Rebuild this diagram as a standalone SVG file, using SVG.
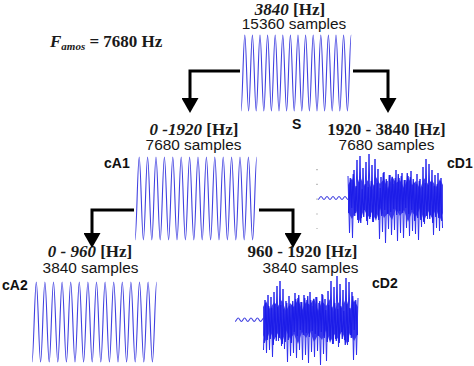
<svg xmlns="http://www.w3.org/2000/svg" xmlns:xlink="http://www.w3.org/1999/xlink" width="474" height="366" viewBox="0 0 474 366">
<style>
.hz{font-family:"Liberation Serif",serif;font-weight:bold;font-size:17px;fill:#1a1a1a;text-anchor:middle}
.it{font-style:italic}
.smp{font-family:"Liberation Sans",Arial,sans-serif;font-size:15.4px;fill:#151515;text-anchor:middle}
.lbl{font-family:"Liberation Sans",Arial,sans-serif;font-weight:bold;font-size:14px;fill:#111}
.sine{fill:none;stroke:#4040e0;stroke-width:1.1}
.noise{fill:none;stroke:#2c2cee;stroke-width:1}
.noise2{fill:none;stroke:#1c1ce8;stroke-width:1.2}
.core{fill:#2626e6;fill-opacity:0.85}
.conn{fill:none;stroke:#000;stroke-width:3}
</style>
<defs>
<marker id="ah" viewBox="0 0 15 17" refX="5" refY="8.5" markerWidth="15" markerHeight="17" markerUnits="userSpaceOnUse" orient="auto">
<path d="M0,0 L15,8.5 L0,17 z" fill="#000"/>
</marker>
<g id="noiseG">
<polygon class="core" points="348,185 352,178 356,188 360,176 364,186 368,180 372,190 376,177 380,184 384,179 388,189 392,176 396,183 400,180 404,188 408,177 412,185 416,181 420,189 424,178 428,184 432,180 436,187 440,179 443,185 443,213 440,220 436,209 432,218 428,211 424,221 420,208 416,217 412,212 408,222 404,210 400,216 396,209 392,220 388,213 384,218 380,208 376,221 372,212 368,217 364,209 360,222 356,211 352,219 348,212"/>
<polyline class="noise" points="348,176 349.5,233 351,180 352.5,238 354,170 355.5,213 357,160 358.5,223 360,156 361.5,218 363,168 364.5,210 366,162 367.5,225 369,154 370.5,217 372,165 373.5,222 375,159 376.5,214 378,169 379.5,239 381,177 382.5,232 384,172 385.5,243 387,181 388.5,229 390,175 391.5,235 393,184 394.5,230 396,170 397.5,241 399,178 400.5,233 402,173 403.5,238 405,180 406.5,228 408,176 409.5,236 411,171 412.5,231 414,183 415.5,234 417,174 418.5,240 420,179 421.5,227 423,167 424.5,224 426,159 427.5,219 429,164 430.5,215 432,170 433.5,235 435,175 436.5,228 438,173 439.5,231 441,178 442.5,228"/>
<polyline class="noise2" points="348.75,213 350.25,178 351.75,208 353.25,174 354.75,216 356.25,186 357.75,220 359.25,182 360.75,223 362.25,189 363.75,217 365.25,184 366.75,221 368.25,187 369.75,219 371.25,181 372.75,222 374.25,185 375.75,218 377.25,183 378.75,220 380.25,188 381.75,216 383.25,173 384.75,210 386.25,179 387.75,214 389.25,175 390.75,212 392.25,177 393.75,209 395.25,178 396.75,215 398.25,174 399.75,211 401.25,176 402.75,213 404.25,180 405.75,208 407.25,173 408.75,214 410.25,177 411.75,210 413.25,179 414.75,221 416.25,184 417.75,218 419.25,181 420.75,220 422.25,187 423.75,222 425.25,183 426.75,216 428.25,185 429.75,219 431.25,182 432.75,223 434.25,186 435.75,217 437.25,184 438.75,218 440.25,181 441.75,221"/>
</g>
</defs>
<rect width="474" height="366" fill="#fff"/>

<g id="famos">
<text x="50" y="47" font-family="Liberation Serif,serif" font-weight="bold" font-size="17" fill="#1a1a1a"><tspan font-style="italic">F</tspan><tspan font-style="italic" font-size="11" dy="3">amos</tspan><tspan dy="-3"> = 7680 Hz</tspan></text>
</g>

<g id="S">
<text class="hz" x="290" y="14.5"><tspan class="it">3840</tspan> [Hz]</text>
<text class="smp" x="294" y="29">15360 samples</text>
<path class="sine" d="M241,111 c1.38,0 2.42,-76 3.8,-76 s2.42,76 3.8,76 s2.42,-76 3.8,-76 s2.42,76 3.8,76 s2.42,-76 3.8,-76 s2.42,76 3.8,76 s2.42,-76 3.8,-76 s2.42,76 3.8,76 s2.42,-76 3.8,-76 s2.42,76 3.8,76 s2.42,-76 3.8,-76 s2.42,76 3.8,76 s2.42,-76 3.8,-76 s2.42,76 3.8,76 s2.42,-76 3.8,-76 s2.42,76 3.8,76 s2.42,-76 3.8,-76 s2.42,76 3.8,76 s2.42,-76 3.8,-76 s2.42,76 3.8,76 s2.42,-76 3.8,-76 s2.42,76 3.8,76 s2.42,-76 3.8,-76 s2.42,76 3.8,76 s2.42,-76 3.8,-76 s2.42,76 3.8,76 s2.42,-76 3.8,-76 s2.42,76 3.8,76 s2.42,-76 3.8,-76"/>
<text class="lbl" x="292" y="129" font-size="11">S</text>
</g>

<g id="cA1">
<text class="hz" x="194" y="134.5"><tspan class="it">0 -1920</tspan> [Hz]</text>
<text class="smp" x="193.5" y="150">7680 samples</text>
<text class="lbl" x="104" y="168">cA1</text>
<path class="sine" d="M135,240 c1.53,0 2.67,-83 4.2,-83 s2.67,83 4.2,83 s2.67,-83 4.2,-83 s2.67,83 4.2,83 s2.67,-83 4.2,-83 s2.67,83 4.2,83 s2.67,-83 4.2,-83 s2.67,83 4.2,83 s2.67,-83 4.2,-83 s2.67,83 4.2,83 s2.67,-83 4.2,-83 s2.67,83 4.2,83 s2.67,-83 4.2,-83 s2.67,83 4.2,83 s2.67,-83 4.2,-83 s2.67,83 4.2,83 s2.67,-83 4.2,-83 s2.67,83 4.2,83 s2.67,-83 4.2,-83 s2.67,83 4.2,83 s2.67,-83 4.2,-83 s2.67,83 4.2,83 s2.67,-83 4.2,-83 s2.67,83 4.2,83 s2.67,-83 4.2,-83 s2.67,83 4.2,83 s2.67,-83 4.2,-83 s2.67,83 4.2,83 s2.67,-83 4.2,-83"/>
</g>

<g id="cD1">
<text class="hz" x="386.5" y="134.5">1920 - 3840 [Hz]</text>
<text class="smp" x="386.5" y="150">7680 samples</text>
<text class="lbl" x="447" y="168">cD1</text>
<line x1="317" y1="169" x2="317" y2="229" stroke="#999" stroke-width="1.2" stroke-dasharray="1.2 13.6"/>
<path class="sine" d="M318,199.5 c1.1,0 1.9,-3 3,-3 s1.9,3 3,3 s1.9,-3 3,-3 s1.9,3 3,3 s1.9,-3 3,-3 s1.9,3 3,3 s1.9,-3 3,-3 s1.9,3 3,3 s1.9,-3 3,-3 s1.9,3 3,3"/>
<use xlink:href="#noiseG"/>
</g>

<g id="cA2">
<text class="hz" x="90" y="256.5"><tspan class="it">0 - 960</tspan> [Hz]</text>
<text class="smp" x="90.5" y="273">3840 samples</text>
<text class="lbl" x="2" y="290">cA2</text>
<path class="sine" d="M32,362 c1.57,0 2.73,-80 4.3,-80 s2.73,80 4.3,80 s2.73,-80 4.3,-80 s2.73,80 4.3,80 s2.73,-80 4.3,-80 s2.73,80 4.3,80 s2.73,-80 4.3,-80 s2.73,80 4.3,80 s2.73,-80 4.3,-80 s2.73,80 4.3,80 s2.73,-80 4.3,-80 s2.73,80 4.3,80 s2.73,-80 4.3,-80 s2.73,80 4.3,80 s2.73,-80 4.3,-80 s2.73,80 4.3,80 s2.73,-80 4.3,-80 s2.73,80 4.3,80 s2.73,-80 4.3,-80 s2.73,80 4.3,80 s2.73,-80 4.3,-80 s2.73,80 4.3,80 s2.73,-80 4.3,-80 s2.73,80 4.3,80 s2.73,-80 4.3,-80 s2.73,80 4.3,80 s2.73,-80 4.3,-80 s2.73,80 4.3,80 s2.73,-80 4.3,-80"/>
</g>

<g id="cD2">
<text class="hz" x="302.5" y="256.5">960 - 1920 [Hz]</text>
<text class="smp" x="310.5" y="273">3840 samples</text>
<text class="lbl" x="372" y="288">cD2</text>
<path class="sine" d="M235,321.5 c1.2,0 2,-3.5 3.2,-3.5 s2,3.5 3.2,3.5 s2,-3.5 3.2,-3.5 s2,3.5 3.2,3.5 s2,-3.5 3.2,-3.5 s2,3.5 3.2,3.5 s2,-3.5 3.2,-3.5 s2,3.5 3.2,3.5 s2,-3.5 3.2,-3.5"/>
<use xlink:href="#noiseG" transform="matrix(-1,0,0,1,706,122)"/>
</g>

<g id="connectors">
<path class="conn" d="M240,71 H190 V103" marker-end="url(#ah)"/>
<path class="conn" d="M353,71 H388 V103" marker-end="url(#ah)"/>
<path class="conn" d="M134,210 H92 V238" marker-end="url(#ah)"/>
<path class="conn" d="M259,210 H293 V238" marker-end="url(#ah)"/>
</g>
</svg>
